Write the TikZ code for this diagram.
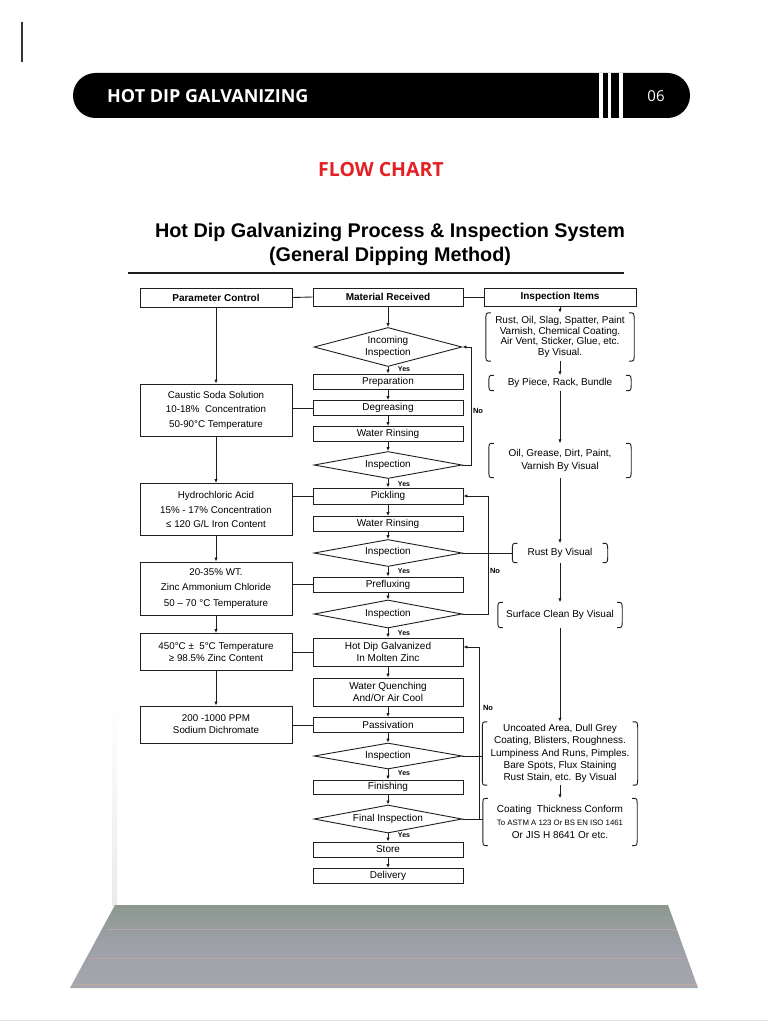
\documentclass[tikz,border=0pt]{standalone}
\usepackage{fontspec}
\setmainfont{Liberation Sans}
\newfontfamily\hdfont{Open Sans}
\usetikzlibrary{shapes.geometric,arrows.meta,calc}
\definecolor{flowred}{RGB}{228,32,36}
\definecolor{ink}{RGB}{30,30,30}
\newcommand\brackets[1]{%
  \draw[brkt] ([xshift=5pt]#1.north west) .. controls (#1.north west) .. ([yshift=-8pt]#1.north west)
     -- ([yshift=8pt]#1.south west) .. controls (#1.south west) .. ([xshift=5pt]#1.south west);
  \draw[brkt] ([xshift=-5pt]#1.north east) .. controls (#1.north east) .. ([yshift=-8pt]#1.north east)
     -- ([yshift=8pt]#1.south east) .. controls (#1.south east) .. ([xshift=-5pt]#1.south east);}
\begin{document}
\begin{tikzpicture}[x=1pt,y=-1pt,
  bx/.style={draw=ink, line width=0.9pt, minimum width=150pt, inner sep=0pt, align=center, font=\fontsize{10}{12}\selectfont},
  pbx/.style={bx, minimum width=152pt, font=\fontsize{9.8}{14.5}\selectfont},
  dia/.style={draw=ink, line width=0.9pt, diamond, minimum width=148pt, inner sep=0pt},
  dtxt/.style={font=\fontsize{10}{12}\selectfont, align=center, inner sep=0pt},
  grp/.style={inner sep=0pt, align=center, font=\fontsize{10}{11}\selectfont},
  brkt/.style={line width=0.9pt, draw=ink},
  ar/.style={line width=0.9pt, draw=ink, -{Latex[length=4pt,width=3.4pt]}},
  ln/.style={line width=0.9pt, draw=ink},
  yes/.style={font=\bfseries\fontsize{7}{8}\selectfont, inner sep=0pt},
  nolbl/.style={font=\bfseries\fontsize{7.5}{8}\selectfont, inner sep=0pt},
]
\useasboundingbox (0,0) rectangle (768,1024);
\fill[white] (0,0) rectangle (768,1024);
% scan mark
\draw[line width=1.8pt, black!80] (22,22) -- (22,62);
% page shadow
\shade[top color=white, bottom color=black!8] (112,700) rectangle (117,905);
% header bar
\fill[black, rounded corners=22.5pt] (73,73) rectangle (690,118);
\fill[white] (599,73) rectangle (602.5,118);
\fill[white] (607.5,73) rectangle (611,118);
\fill[white] (619,73) rectangle (622.5,118);
\node[text=white, anchor=west, font=\hdfont\bfseries\fontsize{18}{20}\selectfont, inner sep=0pt] (hdr) at (107,96) {HOT DIP GALVANIZING};
\node[text=white, font=\hdfont\fontsize{15}{16}\selectfont, inner sep=0pt] (pg) at (656,96) {06};
% titles
\node[text=flowred, font=\hdfont\bfseries\fontsize{19.5}{21}\selectfont, inner sep=0pt] (fc) at (381,170) {FLOW CHART};
\node[font=\bfseries\fontsize{19.8}{24}\selectfont, align=center, inner sep=0pt] (t1) at (390,232) {Hot Dip Galvanizing Process \& Inspection System};
\node[font=\bfseries\fontsize{19.8}{24}\selectfont, align=center, inner sep=0pt] (t2) at (390,256) {(General Dipping Method)};
\draw[line width=2pt, ink] (128,273) -- (624,273);

% ---------- middle column ----------
\node[bx, minimum height=18pt, font=\bfseries\fontsize{10}{12}\selectfont] (mr) at (388,297) {Material Received};
\node[dia, minimum height=39pt] (d1) at (388,347) {};
\node[dtxt] (d1t) at (388,346.5) {Incoming\\Inspection};
\node[bx, minimum height=15pt] (prep) at (388,381.5) {Preparation};
\node[bx, minimum height=15pt] (deg) at (388,408) {Degreasing};
\node[bx, minimum height=15pt] (wr1) at (388,434) {Water Rinsing};
\node[dia, minimum height=27pt] (d2) at (388,465) {};
\node[dtxt] (d2t) at (388,464.5) {Inspection};
\node[bx, minimum height=16pt] (pick) at (388,496) {Pickling};
\node[bx, minimum height=15pt] (wr2) at (388,524) {Water Rinsing};
\node[dia, minimum height=27pt] (d3) at (388,553) {};
\node[dtxt] (d3t) at (388,552) {Inspection};
\node[bx, minimum height=15pt] (pref) at (388,584.5) {Prefluxing};
\node[dia, minimum height=28pt] (d4) at (388,614) {};
\node[dtxt] (d4t) at (388,613.5) {Inspection};
\node[bx, minimum height=28pt, font=\fontsize{10}{12.5}\selectfont] (hdg) at (388,652) {Hot Dip Galvanized\\In Molten Zinc};
\node[bx, minimum height=28pt, font=\fontsize{10}{11.7}\selectfont] (wq) at (388,692) {Water Quenching\\And/Or Air Cool};
\node[bx, minimum height=15pt] (pas) at (388,725) {Passivation};
\node[dia, minimum height=26pt] (d5) at (388,756) {};
\node[dtxt] (d5t) at (388,755.5) {Inspection};
\node[bx, minimum height=14pt] (fin) at (388,787) {Finishing};
\node[dia, minimum height=28pt] (d6) at (388,819) {};
\node[dtxt] (d6t) at (388,818.5) {Final Inspection};
\node[bx, minimum height=15pt] (store) at (388,849.5) {Store};
\node[bx, minimum height=15pt] (del) at (388,876) {Delivery};

\draw[ar] (mr) -- (d1);
\draw[ar] (d1) -- (prep);
\draw[ar] (prep) -- (deg);
\draw[ar] (deg) -- (wr1);
\draw[ar] (wr1) -- (d2);
\draw[ar] (d2) -- (pick);
\draw[ar] (pick) -- (wr2);
\draw[ar] (wr2) -- (d3);
\draw[ar] (d3) -- (pref);
\draw[ar] (pref) -- (d4);
\draw[ar] (d4) -- (hdg);
\draw[ar] (hdg) -- (wq);
\draw[ar] (wq) -- (pas);
\draw[ar] (pas) -- (d5);
\draw[ar] (d5) -- (fin);
\draw[ar] (fin) -- (d6);
\draw[ar] (d6) -- (store);
\draw[ar] (store) -- (del);

\node[yes] (y1) at (404,369.5) {Yes};
\node[yes] (y2) at (404,484.5) {Yes};
\node[yes] (y3) at (404,571) {Yes};
\node[yes] (y4) at (404,633) {Yes};
\node[yes] (y5) at (404,773) {Yes};
\node[yes] (y6) at (404,835) {Yes};

% ---------- left column ----------
\node[pbx, minimum height=19pt, font=\bfseries\fontsize{10}{12}\selectfont] (pc) at (216,297.5) {Parameter Control};
\node[pbx, minimum height=52pt] (cs) at (216,410) {Caustic Soda Solution\\10-18\%\ \ Concentration\\50-90\textdegree C Temperature};
\node[pbx, minimum height=52pt] (ha) at (216,509.5) {Hydrochloric Acid\\15\% - 17\% Concentration\\≤ 120 G/L Iron Content};
\node[pbx, minimum height=53pt, font=\fontsize{9.8}{15.5}\selectfont] (zac) at (216,588.5) {20-35\% WT.\\Zinc Ammonium Chloride\\50 – 70 \textdegree C Temperature};
\node[pbx, minimum height=37pt, font=\fontsize{9.8}{11.7}\selectfont] (t450) at (216,652) {450\textdegree C ±\ \ 5\textdegree C Temperature\\≥ 98.5\% Zinc Content};
\node[pbx, minimum height=37pt, font=\fontsize{9.8}{12}\selectfont] (sd) at (216,724.5) {200 -1000 PPM\\Sodium Dichromate};

\draw[ar] (pc) -- (cs);
\draw[ar] (cs) -- (ha);
\draw[ar] (ha) -- (zac);
\draw[ar] (zac) -- (t450);
\draw[ar] (t450) -- (sd);

\draw[ln] (pc.east) -- (mr.west);
\draw[ln] (cs.east |- deg.west) -- (deg.west);
\draw[ln] (ha.east |- pick.west) -- (pick.west);
\draw[ln] (zac.east |- pref.west) -- (pref.west);
\draw[ln] (t450.east |- hdg.west) -- (hdg.west);
\draw[ln] (sd.east |- pas.west) -- (pas.west);

% ---------- right column ----------
\node[bx, minimum width=152pt, minimum height=18pt, font=\bfseries\fontsize{10}{12}\selectfont] (ii) at (560,297) {Inspection Items};
\node[grp, minimum width=148pt, minimum height=48pt, font=\fontsize{10}{10.8}\selectfont] (g1) at (560,337) {Rust, Oil, Slag, Spatter, Paint\\Varnish, Chemical Coating.\\Air Vent, Sticker, Glue, etc.\\By Visual.};
\node[grp, minimum width=142pt, minimum height=15pt] (g2) at (560,383) {By Piece, Rack, Bundle};
\node[grp, minimum width=142pt, minimum height=34pt, font=\fontsize{10}{13}\selectfont] (g3) at (560,460.5) {Oil, Grease, Dirt, Paint,\\Varnish By Visual};
\node[grp, minimum width=95pt, minimum height=19pt] (g4) at (560,553) {Rust By Visual};
\node[grp, minimum width=124pt, minimum height=25pt] (g5) at (560,615) {Surface Clean By Visual};
\node[grp, minimum width=155pt, minimum height=63pt, font=\fontsize{10}{12.2}\selectfont] (g6) at (560,753.5) {Uncoated Area, Dull Grey\\Coating, Blisters, Roughness.\\Lumpiness And Runs, Pimples.\\Bare Spots, Flux Staining\\Rust Stain, etc. By Visual};
\node[grp, minimum width=154pt, minimum height=47pt, font=\fontsize{10}{13}\selectfont] (g7) at (560,822) {Coating\ \ Thickness Conform\\{\fontsize{7.8}{9}\selectfont To ASTM A 123 Or BS EN ISO 1461}\\Or JIS H 8641 Or etc.};
\brackets{g1}\brackets{g2}\brackets{g3}\brackets{g4}\brackets{g5}\brackets{g6}\brackets{g7}

\draw[ln] (mr.east) -- (ii.west);
\draw[ar] (ii) -- (g1);
\draw[ar] (g1) -- (g2);
\draw[ar] (g2) -- (g3);
\draw[ar] (g3) -- (g4);
\draw[ar] (g4) -- (g5);
\draw[ar] (g5) -- (g6);
\draw[ar] (g6) -- (g7);

% ---------- feedback loops ----------
\coordinate (n1) at (471,0);
\coordinate (n2) at (488,0);
\coordinate (n3) at (479,0);
\coordinate (hdgin) at ([yshift=5pt]hdg.east);
\draw[ar] (d2.east) -- (d2.east -| n1) -- (d1.east -| n1) -- (d1.east);
\draw[ar] (d4.east) -- (d4.east -| n2) -- (pick.east -| n2) -- (pick.east);
\draw[ln] (d3.east) -- (d3.east -| g4.west);
\draw[ln] (d5.east) -- (d5.east -| g6.west);
\draw[ln] (d6.east) -- (d6.east -| g7.west);
\draw[ar] (d6.east -| n3) -- (hdgin -| n3) -- (hdgin);
\node[nolbl] (no1) at (478,411) {No};
\node[nolbl] (no2) at (495,571) {No};
\node[nolbl] (no3) at (488,708) {No};

% ---------- bottom gray band ----------
\shade[top color={rgb,255:red,140;green,152;blue,144}, bottom color={rgb,255:red,165;green,166;blue,174}, middle color={rgb,255:red,158;green,161;blue,168}]
  (115,905) -- (668,905) -- (698,988) -- (70,988) -- cycle;
\draw[line width=0.4pt, color={rgb,255:red,190;green,160;blue,165}] (107,929) -- (677,929);
\draw[line width=0.4pt, color={rgb,255:red,190;green,160;blue,165}] (88,958) -- (687,958);
\draw[line width=0.4pt, color={rgb,255:red,195;green,170;blue,160}] (73,984) -- (697,984);
\draw[line width=0.5pt, black!12] (0,1020) -- (768,1020);
\end{tikzpicture}
\end{document}
